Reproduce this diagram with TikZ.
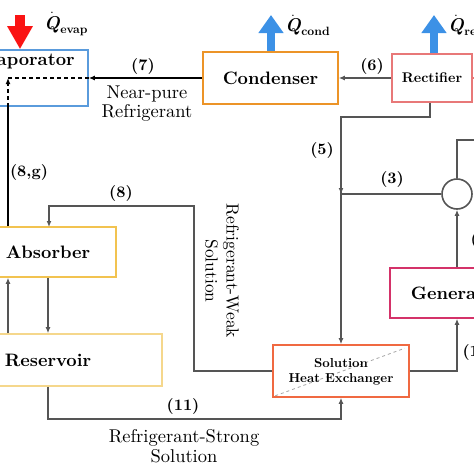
\documentclass[tikz,border=0pt]{standalone}
\usepackage{amsmath}
\usepackage{fontspec}
\setmainfont{lmroman10}[Extension=.otf, UprightFont=*-regular, BoldFont=*-bold, ItalicFont=*-italic, BoldItalicFont=*-bolditalic]
\usetikzlibrary{arrows.meta,calc}
\definecolor{evapblue}{RGB}{90,155,220}
\definecolor{condorange}{RGB}{236,148,40}
\definecolor{rectred}{RGB}{232,120,120}
\definecolor{genpink}{RGB}{212,50,105}
\definecolor{shxred}{RGB}{240,105,65}
\definecolor{absgold}{RGB}{242,195,80}
\definecolor{resgold}{RGB}{245,215,140}
\definecolor{qred}{RGB}{250,20,20}
\definecolor{qblue}{RGB}{60,145,230}
\definecolor{linegray}{RGB}{85,85,85}
\newcommand{\qdotlab}[1]{{\fontsize{18.5}{20}\selectfont$\dot{\text{\bfseries\itshape Q}}$}\kern0.3pt\raisebox{-3.5pt}{\fontsize{12}{13}\selectfont\bfseries #1}}
\tikzset{
  boxn/.style={draw, line width=1.6pt, fill=white, inner sep=0pt},
  boxtxt/.style={font=\fontsize{18}{20}\selectfont\bfseries},
  plainline/.style={draw=linegray, line width=1.2pt},
  flow/.style={plainline, -{Latex[length=6pt,width=5pt]}},
  numlab/.style={font=\fontsize{16}{18}\selectfont\bfseries},
  desc/.style={font=\fontsize{18.5}{19}\selectfont, align=center},
  qlab/.style={anchor=west, inner sep=0pt},
}
\begin{document}
\begin{tikzpicture}[x=1pt,y=-1pt]
\useasboundingbox (0,0) rectangle (474,474);
\clip (0,0) rectangle (474,474);

% boxes
\node[boxn, draw=evapblue, minimum width=128pt, minimum height=56pt] (evap) at (24,78) {};
\node[boxtxt] (evaptxt) at (24,61) {Evaporator};
\node[boxn, draw=condorange, minimum width=135pt, minimum height=52pt, boxtxt] (cond) at (270.5,78) {Condenser};
\node[boxn, draw=rectred, minimum width=80pt, minimum height=48pt, font=\fontsize{14}{16}\selectfont\bfseries] (rect) at (432,78) {Rectifier};
\node[boxn, draw=genpink, minimum width=134pt, minimum height=50pt, boxtxt] (gen) at (457,293) {Generator};
\node[boxn, draw=shxred, minimum width=136pt, minimum height=52pt] (shx) at (341,371) {};
\draw[dashed, draw=gray!70, line width=0.8pt] ($(shx.south west)+(3,-2)$) -- ($(shx.north east)+(-5,4)$);
\node[font=\fontsize{13}{15}\selectfont\bfseries, align=center] (shxtxt) at (341,372) {Solution\\Heat Exchanger};
\node[boxn, draw=absgold, minimum width=136pt, minimum height=50pt, boxtxt] (absb) at (48,252) {Absorber};
\node[boxn, draw=resgold, minimum width=228pt, minimum height=52pt, boxtxt] (res) at (48,360) {Reservoir};
\node[circle, draw=linegray, line width=1.6pt, minimum size=30pt, inner sep=0pt] (pump) at (457,194) {};

% heat arrows
\coordinate (qevapTop) at (20,15);
\draw[line width=10pt, draw=qred, -{Triangle[width=24pt,length=23pt]}] (qevapTop) -- (qevapTop |- evap.north);
\coordinate (qcondTop) at (271,15);
\draw[line width=8pt, draw=qblue, -{Triangle[width=24pt,length=18pt]}] (qcondTop |- cond.north) -- (qcondTop);
\coordinate (qrectTop) at (434,15);
\draw[line width=8pt, draw=qblue, -{Triangle[width=24pt,length=18pt]}] (qrectTop |- rect.north) -- (qrectTop);
\node[qlab] (qevap) at (44,24) {\qdotlab{evap}};
\node[qlab] (qcond) at (285,25) {\qdotlab{cond}};
\node[qlab] (qrect) at (448,25) {\qdotlab{rect}};

% (7)
\coordinate (evapIn) at (8,78);
\draw[flow, draw=black] (cond.west) -- (evap.east);
\draw[black, line width=1.2pt, dash pattern=on 4pt off 3pt] (evap.east) -- (evapIn);
\draw[black, line width=1.2pt, dash pattern=on 4pt off 3pt, -{Latex[length=6pt,width=5pt]}] (evap.south -| evapIn) -- (evapIn);
\draw[black, line width=1.2pt] (absb.north -| evapIn) -- (evap.south -| evapIn);
\node[numlab] (l7) at (143,66) {(7)};
\node[desc] (np) at (147,104) {Near-pure\\Refrigerant};
\node[numlab] (l8g) at (29,172) {(8,g)};

% (6)
\draw[flow] (rect.west) -- (cond.east);
\node[numlab] (l6) at (372,66) {(6)};
\draw[plainline, draw=rectred, line width=1.4pt] (rect.east) -- ++(10,0);

% (5)
\coordinate (rbend) at (430,117);
\draw[flow] (rect.south -| rbend) -- (rbend) -| (shx.north);
\node[numlab] (l5) at (322,150) {(5)};

% (3)
\coordinate (junc) at (pump.west -| shx.north);
\draw[plainline] (pump.west) -- (junc);
\draw[flow] ($(junc)+(0,-4)$) -- (junc);
\node[numlab] (l3) at (392,179) {(3)};
\coordinate (pout) at (480,140);
\draw[plainline] (pump.north) |- (pout);

% (2)
\draw[flow] (gen.north) -- (pump.south);
\node[numlab, anchor=west] (l2) at (467,240) {(2)};

% (1)
\draw[flow] (shx.east) -| (gen.south);
\node[numlab, anchor=west] (l1) at (459,352) {(1)};

% (8)
\coordinate (wk1) at (194,206);
\coordinate (absIn) at (49,227);
\draw[flow] (shx.west) -| (wk1) -| (absIn);
\node[numlab] (l8) at (121,193) {(8)};
\node[desc, font=\fontsize{17.5}{21}\selectfont, rotate=-90] (weak) at (222,271) {Refrigerant-Weak\\Solution};

% absorber / reservoir
\draw[flow] (res.north -| evapIn) -- (absb.south -| evapIn);
\draw[flow] (absb.south) -- (res.north);

% (11)
\coordinate (sbend) at (48,419);
\draw[flow] (res.south) -- (sbend) -| (shx.south);
\node[numlab] (l11) at (183,406) {(11)};
\node[desc, font=\fontsize{18.5}{20}\selectfont] (strong) at (184,446) {Refrigerant-Strong\\Solution};
\end{tikzpicture}
\end{document}
